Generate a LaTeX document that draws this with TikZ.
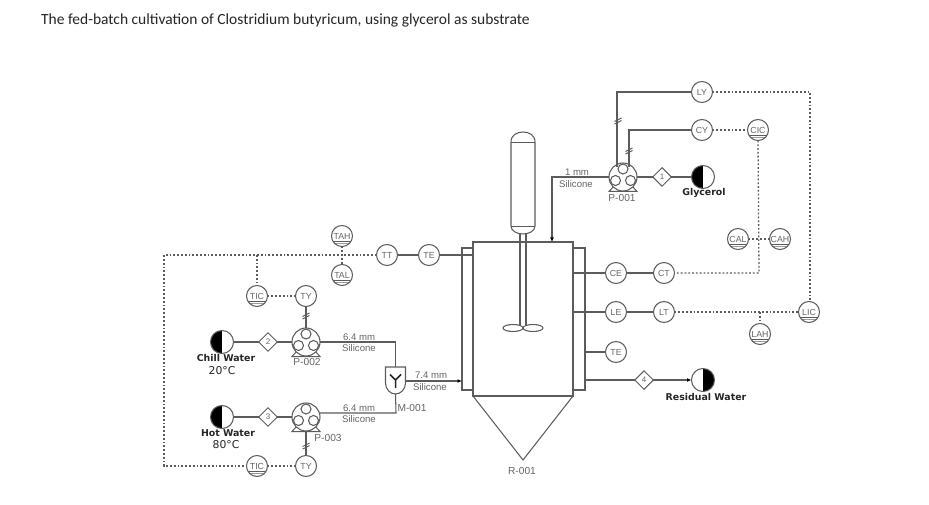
\documentclass[tikz,border=0pt]{standalone}
\usepackage{fontspec}
\setmainfont{Liberation Sans}
\newfontfamily\titlefont{Carlito}
\newfontfamily\boldlabel{DejaVu Sans Bold}
\newfontfamily\reglabel{DejaVu Sans}
\usetikzlibrary{shapes.geometric,arrows.meta}
\definecolor{linec}{gray}{0.36}
\definecolor{textc}{gray}{0.4}
\tikzset{
  pipe/.style={draw=linec,line width=1.05pt},
  sig/.style={draw=linec,line width=1.3pt,dash pattern=on 1.8pt off 2pt},
  arrowpipe/.style={pipe,-{Latex[length=4.5pt,width=3.8pt,black]}},
  inst/.style={circle,draw=linec,line width=1.05pt,fill=white,minimum size=21pt,inner sep=0pt,outer sep=0pt,font=\fontsize{8.8}{9}\selectfont,text=textc},
  alarm/.style={inst,path picture={\draw[linec,line width=0.9pt] ([yshift=-5.6pt]path picture bounding box.center) ++(-12pt,0) -- ++(24pt,0);
     \draw[linec!60!white,line width=0.9pt] ([yshift=-7.4pt]path picture bounding box.center) ++(-12pt,0) -- ++(24pt,0);}},
  pumpbody/.style={circle,draw=linec,line width=1.05pt,fill=white,minimum size=28pt,inner sep=0pt,outer sep=0pt},
  roller/.style={circle,draw=linec,line width=1.05pt,fill=white,minimum size=10pt,inner sep=0pt},
  valve/.style={diamond,draw=linec,line width=1.05pt,fill=white,minimum size=18.5pt,inner sep=0pt,outer sep=0pt,font=\fontsize{8}{9}\selectfont,text=textc},
  srcleft/.style={circle,draw=linec,line width=1.05pt,minimum size=23pt,inner sep=0pt,outer sep=0pt,fill=white,
     path picture={\fill[black] (path picture bounding box.south west) rectangle (path picture bounding box.north);}},
  srcright/.style={circle,draw=linec,line width=1.05pt,minimum size=23pt,inner sep=0pt,outer sep=0pt,fill=white,
     path picture={\fill[black] (path picture bounding box.south east) rectangle (path picture bounding box.north);}},
  lab/.style={font=\fontsize{9.6}{10}\selectfont,text=textc,inner sep=0pt},
  tag/.style={font=\fontsize{10.2}{11}\selectfont,text=textc,inner sep=0pt},
  blab/.style={font=\boldlabel\fontsize{9.4}{10}\selectfont,text=black!85,inner sep=0pt},
  ble/.style={font=\reglabel\fontsize{10.8}{11}\selectfont,text=black!85,inner sep=0pt},
  tank/.style={rectangle,draw=linec,line width=1.05pt,outer sep=0pt,inner sep=0pt},
  tick/.style={draw=linec,line width=0.9pt},
}
\newcommand{\pumpat}[3]{%
  \draw[linec,line width=1pt,fill=white] (#2-14,#3+14.5) -- (#2+14,#3+14.5) -- (#2+9,#3+9) -- (#2-9,#3+9) -- cycle;
  \node[pumpbody] (#1) at (#2,#3) {};
  \node[roller] at (#2,#3-8) {};
  \node[roller] at (#2-7.5,#3+3.5) {};
  \node[roller] at (#2+7.5,#3+3.5) {};
}
\newcommand{\slashat}[2]{%
  \draw[tick] (#1-3.5,#2+0.5) -- (#1+3.5,#2-3);
  \draw[tick] (#1-3.5,#2+3) -- (#1+3.5,#2-0.5);
}
\begin{document}
\begin{tikzpicture}[x=1pt,y=-1pt]
\fill[white] (0,0) rectangle (929,505);
\useasboundingbox (0,0) rectangle (929,505);

\node[anchor=west,inner sep=0pt,font=\titlefont\fontsize{15.5}{17}\selectfont,text=black!85] (title) at (41,20) {The fed-batch cultivation of Clostridium butyricum, using glycerol as substrate};

% reactor
\node[tank,minimum width=123pt,minimum height=142pt] (jacket) at (523.5,319) {};
\node[tank,fill=white,minimum width=100pt,minimum height=154pt] (vessel) at (523,319) {};
\coordinate (apex) at (523,460);
\draw[pipe,line join=miter] (vessel.south west) -- (apex) -- (vessel.south east);
\node[tag] (r001) at (522,471) {R-001};

% seal pot and agitator
\draw[pipe,fill=white] (511,142) .. controls (511,135) and (517,132) .. (523,132) .. controls (529,132) and (535,135) .. (535,142) -- (535,226) .. controls (535,231) and (529,234) .. (523,234) .. controls (517,234) and (511,231) .. (511,226) -- cycle;
\draw[linec,line width=0.7pt] (511,142) -- (535,142) (511,226) -- (535,226);
\draw[pipe] (520,234) -- (520,327) (526,234) -- (526,327);
\node[ellipse,draw=linec,line width=1.05pt,fill=white,minimum width=20pt,minimum height=7pt,inner sep=0pt] (bladeL) at (513,328) {};
\node[ellipse,draw=linec,line width=1.05pt,fill=white,minimum width=20pt,minimum height=7pt,inner sep=0pt] (bladeR) at (533,328) {};

% instruments left
\node[alarm] (tah) at (342,236) {TAH};
\node[alarm] (tal) at (342,275) {TAL};
\node[inst] (tt) at (387,255) {TT};
\node[inst] (te) at (429,255) {TE};
\node[alarm] (tic1) at (257,296) {TIC};
\node[inst] (ty1) at (306,296) {TY};
\node[alarm] (tic2) at (257,466) {TIC};
\node[inst] (ty2) at (306,466) {TY};
\coordinate (cornerTop) at (164,255);
\coordinate (cornerBot) at (164,466);
\coordinate (branch) at (257,255);

% pumps, valves, sources
\pumpat{p2}{306}{342}
\pumpat{p3}{306}{417}
\pumpat{p1}{623}{177}
\node[valve] (v2) at (268,342) {2};
\node[valve] (v3) at (268,417) {3};
\node[valve] (v1) at (662,177) {1};
\node[valve] (v4) at (644,380) {4};
\node[srcleft] (chill) at (222,342) {};
\node[srcleft] (hot) at (222,417) {};
\node[srcleft] (gly) at (703,177) {};
\node[srcright] (res) at (703,380) {};

% mixer
\coordinate (mixN) at (395.5,367);
\coordinate (mixS) at (395.5,394);
\coordinate (mixE) at (405.5,381);
\coordinate (mixL) at (396,413);
\draw[pipe,fill=white] (385.5,367) -- (405.5,367) -- (405.5,383) .. controls (405.5,389) and (401,394) .. (mixS) .. controls (390,394) and (385.5,389) .. (385.5,383) -- cycle;
\draw[draw=black!85,line width=1.5pt] (390,374.5) -- (395.5,380) -- (401,374.5) (395.5,380) -- (395.5,388);

% right instruments
\node[inst] (ly) at (702,92) {LY};
\node[inst] (cy) at (702,130) {CY};
\node[alarm] (cic) at (758,130) {CIC};
\node[inst] (ce) at (616,273) {CE};
\node[inst] (ct) at (664,273) {CT};
\node[inst] (le) at (616,312) {LE};
\node[inst] (lt) at (664,312) {LT};
\node[inst] (te3) at (616,352) {TE};
\node[alarm] (cal) at (738,239) {CAL};
\node[alarm] (cah) at (780,239) {CAH};
\node[alarm] (lah) at (760,334) {LAH};
\node[alarm] (lic) at (809,312) {LIC};
\coordinate (cornerLY) at (810,92);
\coordinate (cornerCT) at (759,273);
\coordinate (joinLA) at (760,312);
\coordinate (pipeP1) at (552,177);
\coordinate (lyUp) at (617,92);
\coordinate (cyUp) at (629,130);

% pipes
\draw[pipe] (chill.east) -- (v2.west) (v2.east) -- (p2.west);
\draw[pipe] (hot.east) -- (v3.west) (v3.east) -- (p3.west);
\draw[pipe] (p2.east) -- (mixN |- p2) -- (mixN);
\draw[pipe] (p3.east) ++(0,-4) -- (mixL) -- (mixS);
\draw[arrowpipe] (mixE) -- (jacket.west |- mixE);
\draw[pipe] (gly.west) -- (v1.east) (v1.west) -- (p1.east);
\draw[arrowpipe] (p1.west) -- (pipeP1) -- (pipeP1 |- vessel.north);
\draw[pipe] (te.east) -- (vessel.west |- te);
\draw[pipe] (tt.east) -- (te.west);
\draw[pipe] (ce.west) -- (vessel.east |- ce);
\draw[pipe] (le.west) -- (vessel.east |- le);
\draw[pipe] (ce.east) -- (ct.west);
\draw[pipe] (le.east) -- (lt.west);
\draw[pipe] (te3.west) -- (jacket.east |- te3);
\draw[pipe] (v4.west) -- (jacket.east |- v4);
\draw[arrowpipe] (v4.east) -- (res.west);
\draw[pipe] (ty1.south) -- (p2.north);
\draw[pipe] (ty2.north) -- (p3.south);
\draw[pipe] (lyUp |- p1.north west) -- (lyUp) -- (ly.west);
\draw[pipe] (cyUp |- p1.north west) -- (cyUp) -- (cy.west);
\slashat{306}{316}
\slashat{306}{446}
\slashat{618}{121}
\slashat{629}{151}

% signals
\draw[sig] (tt.west) -- (cornerTop) -- (cornerBot) -- (tic2.west);
\draw[sig] (branch) -- (tic1.north);
\draw[sig] (tah.south) -- (tal.north);
\draw[sig] (tic1.east) -- (ty1.west);
\draw[sig] (tic2.east) -- (ty2.west);
\draw[sig] (ly.east) -- (cornerLY) -- (lic.north -| cornerLY);
\draw[sig] (cy.east) -- (cic.west);
\draw[sig] (cic.south) -- (cornerCT) -- (ct.east);
\draw[sig] (lt.east) -- (lic.west);
\draw[sig] (joinLA) -- (lah.north);
\draw[sig] (cal.east) -- (cah.west);

% labels
\node[lab] (l1a) at (359,337) {6.4 mm};
\node[lab] (l1b) at (359,348) {Silicone};
\node[lab] (l2a) at (431,375) {7.4 mm};
\node[lab] (l2b) at (430,387) {Silicone};
\node[lab] (l3a) at (359,408) {6.4 mm};
\node[lab] (l3b) at (359,419) {Silicone};
\node[lab] (l4a) at (577,172.5) {1 mm};
\node[lab] (l4b) at (576,184) {Silicone};
\node[tag] (m001) at (412,408) {M-001};
\node[tag] (p002) at (307,361.5) {P-002};
\node[tag] (p003) at (328,438) {P-003};
\node[tag] (p001) at (622,198) {P-001};
\node[blab] (chillt) at (226,358) {Chill Water};
\node[ble] (chilld) at (222,371) {20°C};
\node[blab] (hott) at (228,433) {Hot Water};
\node[ble] (hotd) at (226,445) {80°C};
\node[blab] (glyt) at (704,193) {Glycerol};
\node[blab] (rest) at (706,397) {Residual Water};
\end{tikzpicture}
\end{document}
